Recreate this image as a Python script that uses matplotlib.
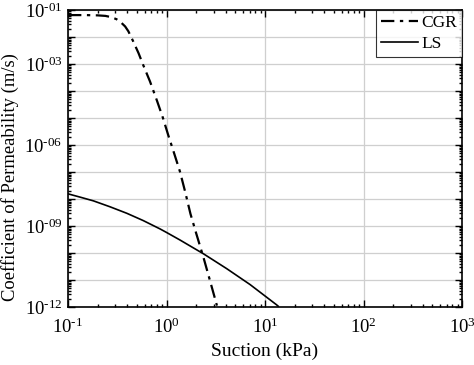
import numpy as np
import matplotlib
matplotlib.use('Agg')
import matplotlib.pyplot as plt
from matplotlib.ticker import LogLocator, FuncFormatter, NullFormatter

plt.rcParams['font.family'] = 'Liberation Serif'
plt.rcParams['mathtext.fontset'] = 'custom'
plt.rcParams['mathtext.rm'] = 'Liberation Serif'
plt.rcParams['mathtext.it'] = 'Liberation Serif:italic'

# CGR curve (suction kPa, log10 permeability m/s)
cgr_suction = [0.1, 0.15, 0.2, 0.24, 0.27, 0.31, 0.34, 0.38, 0.41, 0.46, 0.52,
               0.58, 0.68, 0.80, 0.92, 1.04, 1.2, 1.37, 1.55, 1.75, 2.0, 2.37,
               2.77, 3.25]
cgr_logk = [-1.19, -1.19, -1.20, -1.22, -1.26, -1.34, -1.44, -1.61, -1.79, -2.17,
            -2.6, -3.04, -3.65, -4.36, -5.0, -5.63, -6.33, -6.99, -7.75, -8.55,
            -9.27, -10.16, -11.04, -11.95]

# LS curve
ls_suction = [0.1, 0.132, 0.181, 0.267, 0.395, 0.58, 0.86, 1.0, 1.37, 1.87,
              2.37, 4.08, 7.05, 13.1, 13.6]
ls_logk = [-7.81, -7.93, -8.07, -8.29, -8.53, -8.80, -9.11, -9.24, -9.52, -9.81,
           -10.03, -10.58, -11.17, -11.92, -11.97]

labelled_exps = [-1, -3, -6, -9, -12]

fig = plt.figure(figsize=(4.74, 3.65), dpi=100)
ax = fig.add_axes([0.1435, 0.159, 0.8312, 0.8137])

ax.plot(cgr_suction, 10.0 ** np.array(cgr_logk), color='black', lw=1.6,
        linestyle=(0, (6, 2.5, 1.5, 2.5)), label='CGR')
ax.plot(ls_suction, 10.0 ** np.array(ls_logk), color='black', lw=1.2,
        label='LS')

ax.set_xscale('log')
ax.set_yscale('log')
ax.set_xlim(0.1, 1000)
ax.set_ylim(1e-12, 1e-1)

ax.xaxis.set_major_locator(LogLocator(base=10, numticks=20))
ax.xaxis.set_minor_locator(LogLocator(base=10, subs=np.arange(2, 10), numticks=20))
ax.yaxis.set_major_locator(LogLocator(base=10, numticks=30))
ax.yaxis.set_minor_locator(LogLocator(base=10, subs=np.arange(2, 10), numticks=30))
ax.yaxis.set_minor_formatter(NullFormatter())
ax.xaxis.set_minor_formatter(NullFormatter())


def xfmt(v, pos):
    e = int(round(np.log10(v)))
    if e < 0:
        return r'$10^{\text{-}%d}$' % abs(e)
    return r'$10^{%d}$' % e


def yfmt(v, pos):
    e = int(round(np.log10(v)))
    if e in labelled_exps:
        return r'$10^{\text{-}%02d}$' % abs(e)
    return ''


ax.xaxis.set_major_formatter(FuncFormatter(xfmt))
ax.yaxis.set_major_formatter(FuncFormatter(yfmt))

ax.tick_params(which='both', direction='in', top=True, right=True, width=1.0,
               labelsize=13.5, colors='black')
ax.tick_params(which='major', length=5)
ax.tick_params(which='minor', length=2.5)
ax.tick_params(axis='x', pad=8)
ax.tick_params(axis='y', pad=4)

ax.grid(True, which='major', color='#cfcfcf', lw=0.9)
ax.set_axisbelow(True)
for s in ax.spines.values():
    s.set_linewidth(1.2)

ax.set_xlabel('Suction (kPa)', fontsize=14, labelpad=4)
ax.set_ylabel('Coefficient of Permeability (m/s)', fontsize=13.4)
ax.yaxis.set_label_coords(-0.125, 0.436)

leg = ax.legend(loc='upper right', fontsize=12.5, frameon=True, fancybox=False,
                borderaxespad=0, handlelength=2.1, handletextpad=0.2,
                borderpad=0.3, labelspacing=0.25)
leg.get_frame().set_edgecolor('black')
leg.get_frame().set_linewidth(0.8)

fig.savefig('out.png', dpi=100)
